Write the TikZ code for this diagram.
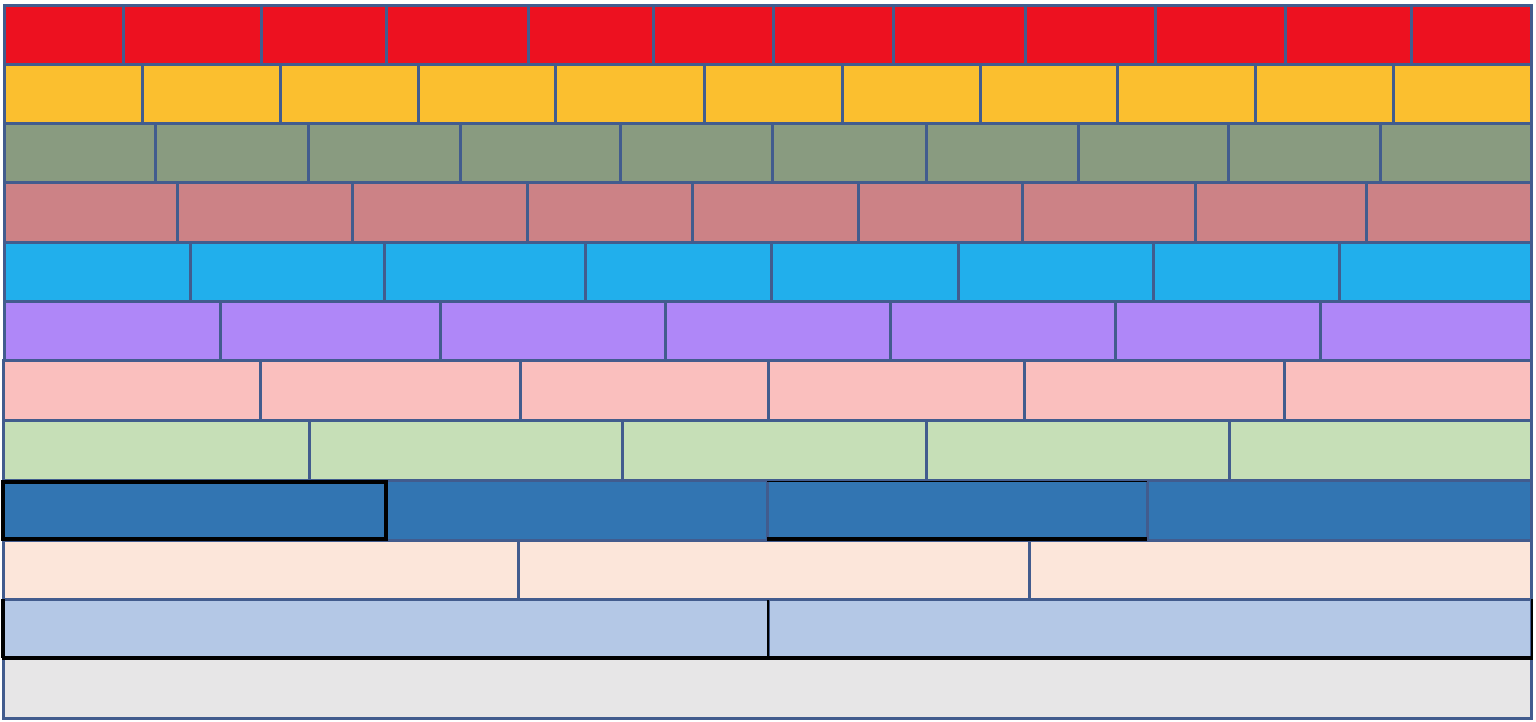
\documentclass[tikz,border=0pt]{standalone}
\definecolor{edge}{RGB}{66,92,142}
\definecolor{c12}{RGB}{237,17,32}
\definecolor{c11}{RGB}{251,191,47}
\definecolor{c10}{RGB}{137,155,128}
\definecolor{c9}{RGB}{204,130,134}
\definecolor{c8}{RGB}{33,175,236}
\definecolor{c7}{RGB}{175,135,248}
\definecolor{c6}{RGB}{250,191,190}
\definecolor{c5}{RGB}{198,223,183}
\definecolor{c4}{RGB}{50,117,178}
\definecolor{c3}{RGB}{252,230,218}
\definecolor{c2}{RGB}{180,200,230}
\definecolor{c1}{RGB}{231,230,231}
\newcommand\wallrow[4]{\foreach \a/\b in {#4} \draw[brick,fill=#1] (\a,#2) rectangle (\b,#3);}
\begin{document}
\begin{tikzpicture}[x=1pt,y=-1pt,brick/.style={draw=edge,line width=3pt,line join=miter}]
\useasboundingbox (0,0) rectangle (1536,722);
\fill[white] (0,0) rectangle (1536,722);
\wallrow{c12}{6}{65}{4/123,123/261,261/386,386/528,528/653,653/773,773/893,893/1025,1025/1155,1155/1285,1285/1411,1411/1531}
\wallrow{c11}{65}{124}{4/142,142/280,280/418,418/555,555/704,704/842,842/980,980/1117,1117/1255,1255/1393,1393/1531}
\wallrow{c10}{124}{183}{4/155,155/308,308/460,460/620,620/772,772/926,926/1078,1078/1228,1228/1380,1380/1531}
\wallrow{c9}{183}{242}{4/177,177/352,352/527,527/692,692/858,858/1022,1022/1195,1195/1366,1366/1531}
\wallrow{c8}{242}{301}{4/190,190/384,384/585,585/771,771/958,958/1153,1153/1339,1339/1531}
\wallrow{c7}{301}{360}{4/220,220/440,440/665,665/890,890/1115,1115/1320,1320/1531}
\wallrow{c6}{360}{420}{3/260,260/520,520/768,768/1024,1024/1284,1284/1531}
\wallrow{c5}{420}{480}{3/309,309/622,622/926,926/1229,1229/1531}
\wallrow{c4}{480}{540}{3/386,386/767,767/1147,1147/1531}
\wallrow{c3}{540}{599}{3/518,518/1029,1029/1531}
\wallrow{c2}{599}{658}{3/768,768/1531}
\wallrow{c1}{658}{718}{3/1531}
% black outlines
\draw[black,line width=4pt] (3,482) rectangle (386,539);
\draw[black,line width=4pt] (767,539) -- (1147,539);
\draw[black,line width=1.5pt] (767,481.5) -- (1147,481.5);
\draw[black,line width=3.5pt] (2,658) -- (1533,658);
\draw[black,line width=3.5pt] (3,599) -- (3,658);
\draw[black,line width=2pt] (768,600) -- (768,658);
\draw[black,line width=2pt] (1532,599) -- (1532,658);
\end{tikzpicture}
\end{document}
